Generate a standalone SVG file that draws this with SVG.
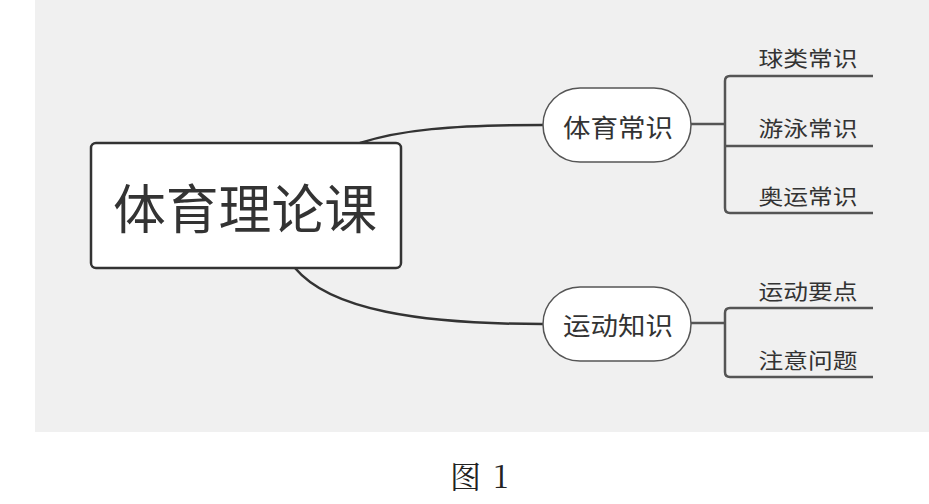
<svg xmlns="http://www.w3.org/2000/svg" width="929" height="504" viewBox="0 0 929 504">
<style>
.t{font-family:"Noto Sans CJK SC","Noto Sans",sans-serif;fill:#333;text-anchor:middle}
.lf{font-size:21px}
.pill{fill:#fff;stroke:#555;stroke-width:1.5}
.ln{fill:none;stroke:#555;stroke-width:2.5}
.cv{fill:none;stroke:#333;stroke-width:2.5}
</style>
<rect x="0" y="0" width="929" height="504" fill="#fff"/>
<rect x="35" y="0" width="894" height="432" fill="#f0f0f0"/>
<g id="connectors">
<path class="cv" d="M360,143 C400,130 450,125 543,125"/>
<path class="cv" d="M295,268 C330,310 420,324 543,324"/>
<path class="ln" d="M691,124 H725"/>
<path class="ln" d="M873,76 H730 Q725,76 725,81 V208 Q725,213 730,213 H873"/>
<path class="ln" d="M725,146 H873"/>
<path class="ln" d="M691,323 H725"/>
<path class="ln" d="M873,308 H730 Q725,308 725,313 V372 Q725,377 730,377 H873"/>
</g>
<g id="root">
<rect x="91" y="143" width="310" height="125" rx="5" fill="#fff" stroke="#333" stroke-width="2.5"/>
<text class="t" x="245" y="229" font-size="53" textLength="264" lengthAdjust="spacingAndGlyphs">体育理论课</text>
</g>
<g id="n1">
<rect class="pill" x="543" y="88" width="148" height="74" rx="37"/>
<text class="t" x="618" y="137" font-size="25" textLength="110" lengthAdjust="spacingAndGlyphs">体育常识</text>
</g>
<g id="n2">
<rect class="pill" x="543" y="287" width="148" height="74" rx="37"/>
<text class="t" x="618" y="335" font-size="25" textLength="110" lengthAdjust="spacingAndGlyphs">运动知识</text>
</g>
<g id="l1"><text class="t lf" x="808" y="66" textLength="99" lengthAdjust="spacingAndGlyphs">球类常识</text></g>
<g id="l2"><text class="t lf" x="808" y="136" textLength="99" lengthAdjust="spacingAndGlyphs">游泳常识</text></g>
<g id="l3"><text class="t lf" x="808" y="204" textLength="99" lengthAdjust="spacingAndGlyphs">奥运常识</text></g>
<g id="l4"><text class="t lf" x="808" y="299" textLength="99" lengthAdjust="spacingAndGlyphs">运动要点</text></g>
<g id="l5"><text class="t lf" x="808" y="368" textLength="99" lengthAdjust="spacingAndGlyphs">注意问题</text></g>
<text x="479" y="488" font-size="31" text-anchor="middle" font-family="'Noto Serif CJK SC','Noto Sans CJK SC','Liberation Serif',serif" fill="#222" textLength="58" lengthAdjust="spacing">图 1</text>
</svg>
